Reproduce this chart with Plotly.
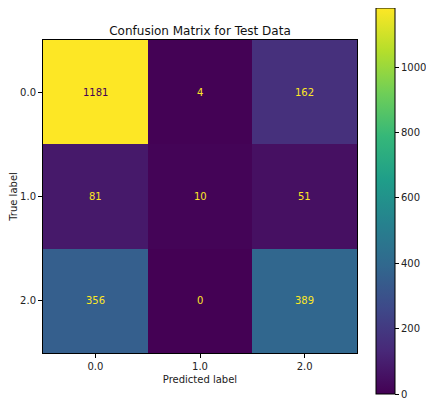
import plotly.graph_objects as go

labels = ["0.0", "1.0", "2.0"]
matrix = [
    [1181, 4, 162],
    [81, 10, 51],
    [356, 0, 389],
]
cbar_ticks = [0, 200, 400, 600, 800, 1000]

zmax = max(max(r) for r in matrix)
idx = list(range(len(labels)))

fig = go.Figure()
fig.add_trace(go.Heatmap(
    z=matrix, x=idx, y=idx,
    colorscale="Viridis", zmin=0, zmax=zmax,
    showscale=True,
    colorbar=dict(
        thickness=19, thicknessmode="pixels",
        len=386, lenmode="pixels",
        x=1.06, xanchor="left", y=0.4856, yanchor="middle",
        outlinecolor="black", outlinewidth=1,
        ticks="outside", ticklen=4, tickcolor="black",
        tickvals=cbar_ticks, ticktext=[str(t) for t in cbar_ticks],
        tickfont=dict(size=10, color="#222", family="DejaVu Sans"),
        xpad=0, ypad=0,
    ),
    hoverinfo="skip",
))

thresh = zmax / 2
for i, row in enumerate(matrix):
    for j, v in enumerate(row):
        fig.add_annotation(
            x=j, y=i, text=str(v), showarrow=False,
            font=dict(size=10, family="DejaVu Sans",
                      color="#440154" if v > thresh else "#fde725"),
        )

fig.update_layout(
    width=426, height=392,
    margin=dict(l=35, r=77, t=32, b=47, autoexpand=False),
    paper_bgcolor="white", plot_bgcolor="white",
    title=dict(text="Confusion Matrix for Test Data", x=0.5, xref="paper",
               xanchor="center",
               y=1, yref="paper", yanchor="bottom", pad=dict(b=5),
               font=dict(size=12, family="DejaVu Sans", color="#111")),
    font=dict(family="DejaVu Sans", size=10, color="#222"),
)
fig.update_xaxes(
    range=[-0.5, 2.5], tickvals=idx, ticktext=labels,
    ticks="outside", ticklen=4, tickcolor="black",
    showline=True, linecolor="black", linewidth=1, mirror=True,
    showgrid=False, zeroline=False, automargin=False,
    title=dict(text="Predicted label", font=dict(size=10), standoff=4),
)
fig.update_yaxes(
    range=[2.5, -0.5], tickvals=idx, ticktext=labels,
    ticks="outside", ticklen=4, tickcolor="black",
    showline=True, linecolor="black", linewidth=1, mirror=True,
    showgrid=False, zeroline=False, automargin=False,
    title=dict(text="True label", font=dict(size=10), standoff=4),
)

fig.write_html("out.html")
